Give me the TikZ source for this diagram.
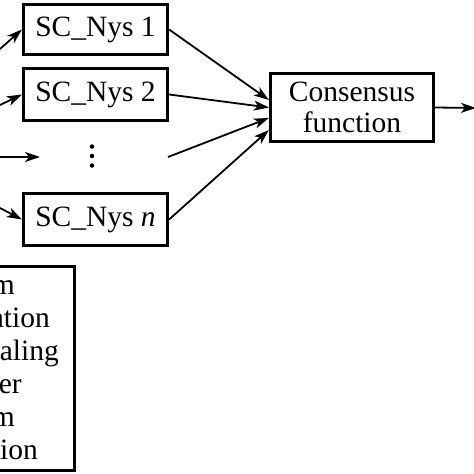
\documentclass[tikz,border=0pt]{standalone}
\usepackage{fontspec}
\setmainfont{Liberation Serif}
\usetikzlibrary{arrows.meta,calc}
\tikzset{
  blockbox/.style={draw, line width=3.2pt, inner sep=0pt, align=center,
    font=\fontsize{29.5}{31.5}\selectfont},
  conn/.style={line width=1.8pt, -{Stealth[length=15pt,width=10pt,inset=4pt]}},
  frag/.style={inner sep=0pt, anchor=base east, font=\fontsize{29.5}{31.5}\selectfont},
  dotmark/.style={fill=black, circle, inner sep=0pt, minimum size=4.5pt}
}
\begin{document}
\begin{tikzpicture}[x=1pt,y=-1pt]
\useasboundingbox (0,0) rectangle (474,474);
\clip (0,0) rectangle (474,474);
% SC_Nys boxes
\node[blockbox, minimum width=144pt, minimum height=50pt] (b1) at (95.5,29.5) {SC\_Nys 1};
\node[blockbox, minimum width=144pt, minimum height=52pt] (b2) at (95.5,94.5) {SC\_Nys 2};
\node[blockbox, minimum width=144pt, minimum height=52pt] (bn) at (95.5,219.5) {SC\_Nys \textit{n}};
% vertical dots
\node[dotmark] (d1) at (92,146.5) {};
\node[dotmark] (d2) at (92,156) {};
\node[dotmark] (d3) at (92,165.5) {};
% consensus
\node[blockbox, minimum width=163pt, minimum height=68pt] (cf) at (352,107.5) {Consensus\\function};
% left box (partly outside)
\node[draw, line width=3.2pt, minimum width=84.5pt, minimum height=204pt, inner sep=0pt] (lb) at (32.25,368.5) {};
\node[frag] (f1) at (15,294) {m};
\node[frag] (f2) at (50,327) {ation};
\node[frag] (f3) at (59,360) {aling};
\node[frag] (f4) at (22,393) {er};
\node[frag] (f5) at (15,426) {m};
\node[frag] (f6) at (38,459) {ion};
% free ends
\coordinate (i1) at (0,49);
\coordinate (i2) at (0,105);
\coordinate (i3a) at (0,157);
\coordinate (i3b) at (40,157);
\coordinate (in) at (0,208);
\coordinate (ds) at (168,157);
\coordinate (out) at (476,108);
% input arrows
\draw[conn] (i1) -- (b1.west);
\draw[conn] (i2) -- (b2.west);
\draw[conn] (i3a) -- (i3b);
\draw[conn] (in) -- (bn.west);
% to consensus
\draw[conn] (b1.east) -- ($(cf.west)+(0,-7.5)$);
\draw[conn] (b2.east) -- ($(cf.west)+(0,0)$);
\draw[conn] (ds) -- ($(cf.west)+(0,10.5)$);
\draw[conn] (bn.east) -- ($(cf.west)+(0,22.5)$);
% output
\draw[conn] (cf.east) -- (out);
\end{tikzpicture}
\end{document}
